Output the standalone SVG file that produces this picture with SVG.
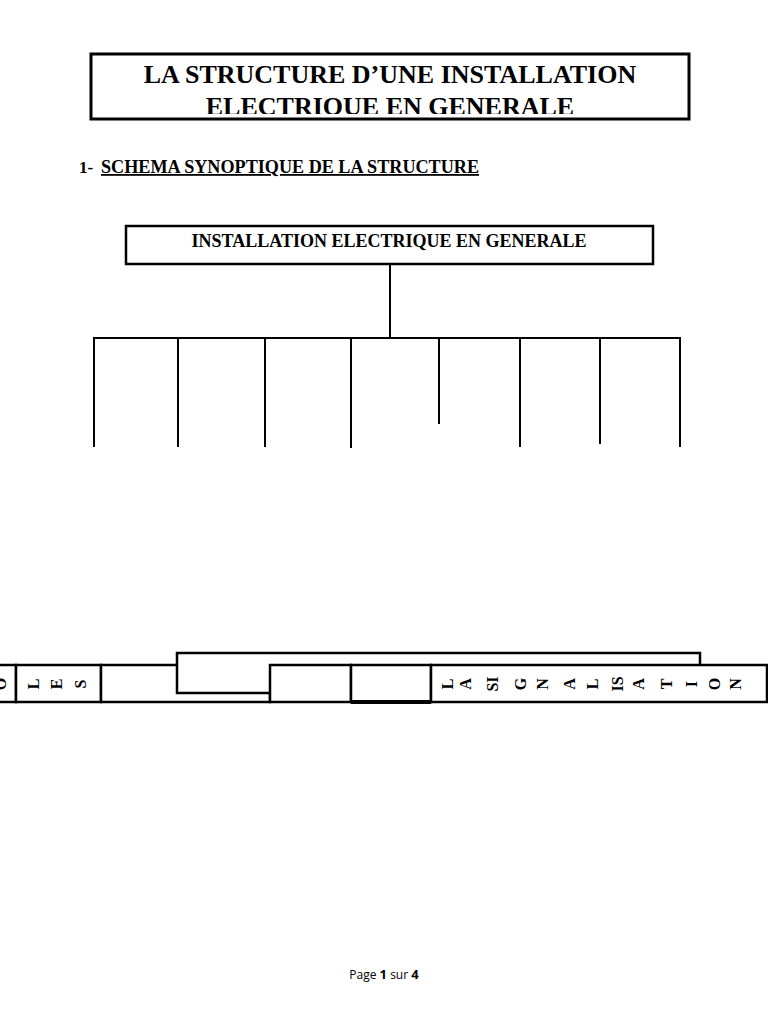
<svg xmlns="http://www.w3.org/2000/svg" width="768" height="1024" viewBox="0 0 768 1024">
<style>
.t{font-family:"Liberation Serif","Times New Roman",serif;font-weight:bold;fill:#000}
.box{fill:#fff;stroke:#000;stroke-width:2.5}
.ln{stroke:#000;stroke-width:2;fill:none}
.v{font-family:"Liberation Serif","Times New Roman",serif;font-weight:bold;font-size:16px;fill:#000;text-anchor:middle;dominant-baseline:central}
</style>
<defs>
<clipPath id="titleClip"><rect x="92" y="55" width="596" height="59"/></clipPath>
<clipPath id="c0"><rect x="0" y="666" width="15" height="35"/></clipPath>
<clipPath id="c1"><rect x="17" y="666" width="83" height="35"/></clipPath>
</defs>
<rect width="768" height="1024" fill="#fff"/>

<g id="title">
<rect x="91" y="54" width="598" height="65" fill="#fff" stroke="#000" stroke-width="3"/>
<g clip-path="url(#titleClip)">
<text class="t" x="390" y="83" font-size="26" text-anchor="middle">LA STRUCTURE D’UNE INSTALLATION</text>
<text class="t" x="390" y="115" font-size="26" text-anchor="middle">ELECTRIQUE EN GENERALE</text>
</g>
</g>

<g id="heading">
<text class="t" x="79" y="173" font-size="17">1-</text>
<text class="t" x="101" y="173" font-size="18" text-decoration="underline" textLength="378" lengthAdjust="spacingAndGlyphs">SCHEMA SYNOPTIQUE DE LA STRUCTURE</text>
</g>

<g id="root">
<rect class="box" x="126" y="226" width="527" height="38"/>
<text class="t" x="389" y="247" font-size="18" text-anchor="middle">INSTALLATION ELECTRIQUE EN GENERALE</text>
</g>

<g id="connectors">
<line class="ln" x1="390" y1="264" x2="390" y2="338"/>
<line class="ln" x1="93" y1="338" x2="681" y2="338"/>
<line class="ln" x1="94" y1="338" x2="94" y2="447"/>
<line class="ln" x1="178" y1="338" x2="178" y2="447"/>
<line class="ln" x1="265" y1="338" x2="265" y2="447"/>
<line class="ln" x1="351" y1="338" x2="351" y2="448"/>
<line class="ln" x1="439" y1="338" x2="439" y2="424"/>
<line class="ln" x1="520" y1="338" x2="520" y2="447"/>
<line class="ln" x1="600" y1="338" x2="600" y2="444"/>
<line class="ln" x1="680" y1="338" x2="680" y2="447"/>
</g>

<g id="row-left">
<rect class="box" x="-2" y="665" width="18" height="37"/>
<rect class="box" x="16" y="665" width="85" height="37"/>
<rect class="box" x="101" y="665" width="169" height="37"/>
<g clip-path="url(#c0)">
<text class="v" x="0" y="684" transform="rotate(-90 0 684)">O</text>
<text class="v" x="20" y="684" transform="rotate(-90 20 684)">O</text>
</g>
<g clip-path="url(#c1)">
<text class="v" x="33" y="684" transform="rotate(-90 33 684)">L</text>
<text class="v" x="56" y="684" transform="rotate(-90 56 684)">E</text>
<text class="v" x="80" y="684" transform="rotate(-90 80 684)">S</text>
<text class="v" x="105" y="684" transform="rotate(-90 105 684)">O</text>
</g>
</g>

<g id="wide-box">
<rect class="box" x="177" y="653" width="523" height="40"/>
</g>

<g id="row-right">
<rect class="box" x="270" y="665" width="81" height="37"/>
<rect class="box" x="351" y="665" width="80" height="37"/>
<line x1="351" y1="702" x2="431" y2="702" stroke="#000" stroke-width="4"/>
<rect class="box" x="431" y="665" width="336" height="37"/>
<text class="v" x="447" y="684" transform="rotate(-90 447 684)">L</text>
<text class="v" x="465" y="684" transform="rotate(-90 465 684)">A</text>
<text class="v" x="492" y="684" transform="rotate(-90 492 684)">SI</text>
<text class="v" x="520" y="684" transform="rotate(-90 520 684)">G</text>
<text class="v" x="542" y="684" transform="rotate(-90 542 684)">N</text>
<text class="v" x="569" y="684" transform="rotate(-90 569 684)">A</text>
<text class="v" x="592" y="684" transform="rotate(-90 592 684)">L</text>
<text class="v" x="617" y="684" transform="rotate(-90 617 684)">IS</text>
<text class="v" x="638" y="684" transform="rotate(-90 638 684)">A</text>
<text class="v" x="666" y="684" transform="rotate(-90 666 684)">T</text>
<text class="v" x="691" y="684" transform="rotate(-90 691 684)">I</text>
<text class="v" x="714" y="684" transform="rotate(-90 714 684)">O</text>
<text class="v" x="735" y="684" transform="rotate(-90 735 684)">N</text>
</g>

<g id="footer">
<text x="384" y="979" font-family="'Open Sans','Liberation Sans',sans-serif" font-size="12" text-anchor="middle" fill="#000">Page <tspan font-weight="bold" font-size="13">1</tspan> sur <tspan font-weight="bold" font-size="13">4</tspan></text>
</g>
</svg>
